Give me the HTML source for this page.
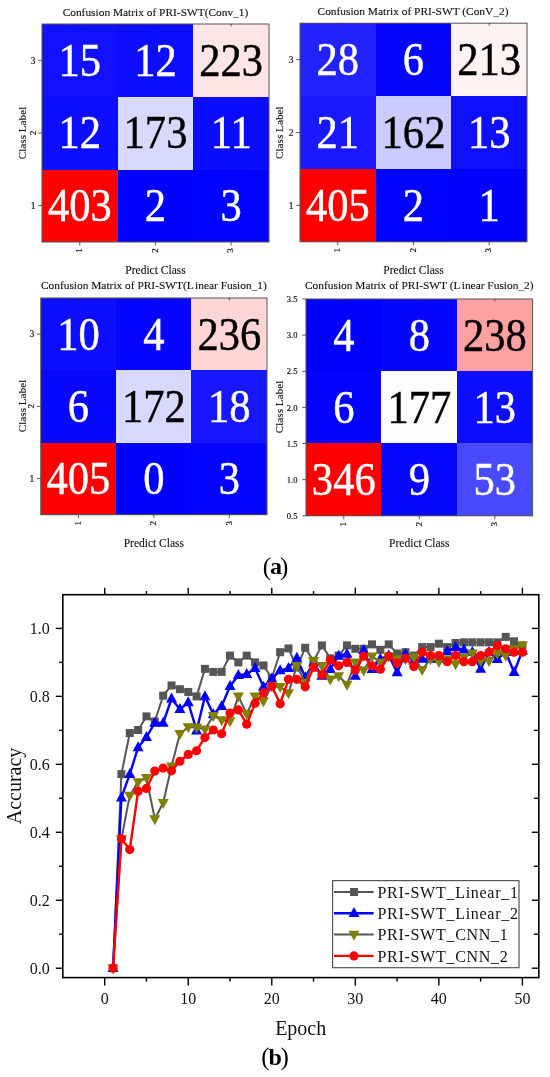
<!DOCTYPE html>
<html><head><meta charset="utf-8"><title>Confusion matrices and accuracy</title>
<style>html,body{margin:0;padding:0;background:#fff;width:550px;height:1077px;overflow:hidden}svg{display:block}</style>
</head><body>
<svg width="550" height="1077" viewBox="0 0 550 1077" font-family="'Liberation Serif', 'Times New Roman', serif">
<rect width="550" height="1077" fill="#fff"/>
<rect x="42" y="24" width="76" height="73" fill="#1111ff" shape-rendering="crispEdges"/>
<rect x="118" y="24" width="75" height="73" fill="#0d0dff" shape-rendering="crispEdges"/>
<rect x="193" y="24" width="76" height="73" fill="#ffe5e5" shape-rendering="crispEdges"/>
<rect x="42" y="97" width="76" height="73" fill="#0d0dff" shape-rendering="crispEdges"/>
<rect x="118" y="97" width="75" height="73" fill="#d9d9ff" shape-rendering="crispEdges"/>
<rect x="193" y="97" width="76" height="73" fill="#0b0bff" shape-rendering="crispEdges"/>
<rect x="42" y="170" width="76" height="72" fill="#ff0000" shape-rendering="crispEdges"/>
<rect x="118" y="170" width="75" height="72" fill="#0000ff" shape-rendering="crispEdges"/>
<rect x="193" y="170" width="76" height="72" fill="#0101ff" shape-rendering="crispEdges"/>
<text transform="translate(79.83,75.73) scale(0.925,1)" font-size="46" text-anchor="middle" fill="#fff" stroke="#fff" stroke-width="0.45">15</text>
<text transform="translate(155.50,75.73) scale(0.925,1)" font-size="46" text-anchor="middle" fill="#fff" stroke="#fff" stroke-width="0.45">12</text>
<text transform="translate(231.17,75.73) scale(0.925,1)" font-size="46" text-anchor="middle" fill="#000" stroke="#000" stroke-width="0.45">223</text>
<text transform="translate(79.83,148.40) scale(0.925,1)" font-size="46" text-anchor="middle" fill="#fff" stroke="#fff" stroke-width="0.45">12</text>
<text transform="translate(155.50,148.40) scale(0.925,1)" font-size="46" text-anchor="middle" fill="#000" stroke="#000" stroke-width="0.45">173</text>
<text transform="translate(231.17,148.40) scale(0.925,1)" font-size="46" text-anchor="middle" fill="#fff" stroke="#fff" stroke-width="0.45">11</text>
<text transform="translate(79.83,221.07) scale(0.925,1)" font-size="46" text-anchor="middle" fill="#fff" stroke="#fff" stroke-width="0.45">403</text>
<text transform="translate(155.50,221.07) scale(0.925,1)" font-size="46" text-anchor="middle" fill="#fff" stroke="#fff" stroke-width="0.45">2</text>
<text transform="translate(231.17,221.07) scale(0.925,1)" font-size="46" text-anchor="middle" fill="#fff" stroke="#fff" stroke-width="0.45">3</text>
<rect x="42.00" y="24.00" width="227.00" height="218.00" fill="none" stroke="#555" stroke-width="1"/>
<text x="155.50" y="15.80" font-size="11.4" text-anchor="middle" fill="#111" stroke="#111" stroke-width="0.12">Confusion Matrix of PRI-SWT(Conv_1)</text>
<text transform="translate(25.90,133.00) rotate(-90)" font-size="11.2" text-anchor="middle" fill="#111" stroke="#111" stroke-width="0.1">Class Label</text>
<text x="155.50" y="273.60" font-size="11.5" text-anchor="middle" fill="#111" stroke="#111" stroke-width="0.1">Predict Class</text>
<line x1="79.83" y1="242.00" x2="79.83" y2="245.50" stroke="#333" stroke-width="0.8"/>
<line x1="79.83" y1="24.00" x2="79.83" y2="26.50" stroke="#333" stroke-width="0.8"/>
<text transform="translate(82.13,250.50) rotate(-90)" font-size="9" text-anchor="middle" fill="#000" stroke="#000" stroke-width="0.12">1</text>
<line x1="155.50" y1="242.00" x2="155.50" y2="245.50" stroke="#333" stroke-width="0.8"/>
<line x1="155.50" y1="24.00" x2="155.50" y2="26.50" stroke="#333" stroke-width="0.8"/>
<text transform="translate(157.80,250.50) rotate(-90)" font-size="9" text-anchor="middle" fill="#000" stroke="#000" stroke-width="0.12">2</text>
<line x1="231.17" y1="242.00" x2="231.17" y2="245.50" stroke="#333" stroke-width="0.8"/>
<line x1="231.17" y1="24.00" x2="231.17" y2="26.50" stroke="#333" stroke-width="0.8"/>
<text transform="translate(233.47,250.50) rotate(-90)" font-size="9" text-anchor="middle" fill="#000" stroke="#000" stroke-width="0.12">3</text>
<line x1="38.20" y1="60.33" x2="42.00" y2="60.33" stroke="#333" stroke-width="0.8"/>
<text x="35.50" y="63.63" font-size="9.5" text-anchor="end" fill="#000" stroke="#000" stroke-width="0.12">3</text>
<line x1="38.20" y1="133.00" x2="42.00" y2="133.00" stroke="#333" stroke-width="0.8"/>
<text transform="translate(35.70,133.00) rotate(-90)" font-size="9" text-anchor="middle" fill="#000" stroke="#000" stroke-width="0.12">2</text>
<line x1="38.20" y1="205.67" x2="42.00" y2="205.67" stroke="#333" stroke-width="0.8"/>
<text x="35.50" y="208.97" font-size="9.5" text-anchor="end" fill="#000" stroke="#000" stroke-width="0.12">1</text>
<rect x="300" y="23" width="76" height="73" fill="#2222ff" shape-rendering="crispEdges"/>
<rect x="376" y="23" width="75" height="73" fill="#0606ff" shape-rendering="crispEdges"/>
<rect x="451" y="23" width="76" height="73" fill="#fff2f2" shape-rendering="crispEdges"/>
<rect x="300" y="96" width="76" height="73" fill="#1919ff" shape-rendering="crispEdges"/>
<rect x="376" y="96" width="75" height="73" fill="#cbcbff" shape-rendering="crispEdges"/>
<rect x="451" y="96" width="76" height="73" fill="#0f0fff" shape-rendering="crispEdges"/>
<rect x="300" y="169" width="76" height="73" fill="#ff0000" shape-rendering="crispEdges"/>
<rect x="376" y="169" width="75" height="73" fill="#0101ff" shape-rendering="crispEdges"/>
<rect x="451" y="169" width="76" height="73" fill="#0000ff" shape-rendering="crispEdges"/>
<text transform="translate(337.83,75.03) scale(0.925,1)" font-size="46" text-anchor="middle" fill="#fff" stroke="#fff" stroke-width="0.45">28</text>
<text transform="translate(413.50,75.03) scale(0.925,1)" font-size="46" text-anchor="middle" fill="#fff" stroke="#fff" stroke-width="0.45">6</text>
<text transform="translate(489.17,75.03) scale(0.925,1)" font-size="46" text-anchor="middle" fill="#000" stroke="#000" stroke-width="0.45">213</text>
<text transform="translate(337.83,147.90) scale(0.925,1)" font-size="46" text-anchor="middle" fill="#fff" stroke="#fff" stroke-width="0.45">21</text>
<text transform="translate(413.50,147.90) scale(0.925,1)" font-size="46" text-anchor="middle" fill="#000" stroke="#000" stroke-width="0.45">162</text>
<text transform="translate(489.17,147.90) scale(0.925,1)" font-size="46" text-anchor="middle" fill="#fff" stroke="#fff" stroke-width="0.45">13</text>
<text transform="translate(337.83,220.77) scale(0.925,1)" font-size="46" text-anchor="middle" fill="#fff" stroke="#fff" stroke-width="0.45">405</text>
<text transform="translate(413.50,220.77) scale(0.925,1)" font-size="46" text-anchor="middle" fill="#fff" stroke="#fff" stroke-width="0.45">2</text>
<text transform="translate(489.17,220.77) scale(0.925,1)" font-size="46" text-anchor="middle" fill="#fff" stroke="#fff" stroke-width="0.45">1</text>
<rect x="300.00" y="23.20" width="227.00" height="218.60" fill="none" stroke="#555" stroke-width="1"/>
<text x="413.00" y="14.90" font-size="11.4" text-anchor="middle" fill="#111" stroke="#111" stroke-width="0.12">Confusion Matrix of PRI-SWT (ConV_2)</text>
<text transform="translate(283.00,132.70) rotate(-90)" font-size="11.2" text-anchor="middle" fill="#111" stroke="#111" stroke-width="0.1">Class Label</text>
<text x="413.50" y="273.60" font-size="11.5" text-anchor="middle" fill="#111" stroke="#111" stroke-width="0.1">Predict Class</text>
<line x1="337.83" y1="241.80" x2="337.83" y2="245.30" stroke="#333" stroke-width="0.8"/>
<line x1="337.83" y1="23.20" x2="337.83" y2="25.70" stroke="#333" stroke-width="0.8"/>
<text transform="translate(340.13,250.30) rotate(-90)" font-size="9" text-anchor="middle" fill="#000" stroke="#000" stroke-width="0.12">1</text>
<line x1="413.50" y1="241.80" x2="413.50" y2="245.30" stroke="#333" stroke-width="0.8"/>
<line x1="413.50" y1="23.20" x2="413.50" y2="25.70" stroke="#333" stroke-width="0.8"/>
<text transform="translate(415.80,250.30) rotate(-90)" font-size="9" text-anchor="middle" fill="#000" stroke="#000" stroke-width="0.12">2</text>
<line x1="489.17" y1="241.80" x2="489.17" y2="245.30" stroke="#333" stroke-width="0.8"/>
<line x1="489.17" y1="23.20" x2="489.17" y2="25.70" stroke="#333" stroke-width="0.8"/>
<text transform="translate(491.47,250.30) rotate(-90)" font-size="9" text-anchor="middle" fill="#000" stroke="#000" stroke-width="0.12">3</text>
<line x1="296.20" y1="59.63" x2="300.00" y2="59.63" stroke="#333" stroke-width="0.8"/>
<text x="293.50" y="62.93" font-size="9.5" text-anchor="end" fill="#000" stroke="#000" stroke-width="0.12">3</text>
<line x1="296.20" y1="132.50" x2="300.00" y2="132.50" stroke="#333" stroke-width="0.8"/>
<text x="293.50" y="135.80" font-size="9.5" text-anchor="end" fill="#000" stroke="#000" stroke-width="0.12">2</text>
<line x1="296.20" y1="205.37" x2="300.00" y2="205.37" stroke="#333" stroke-width="0.8"/>
<text x="293.50" y="208.67" font-size="9.5" text-anchor="end" fill="#000" stroke="#000" stroke-width="0.12">1</text>
<rect x="41" y="298" width="75" height="72" fill="#0d0dff" shape-rendering="crispEdges"/>
<rect x="116" y="298" width="75" height="72" fill="#0505ff" shape-rendering="crispEdges"/>
<rect x="191" y="298" width="76" height="72" fill="#ffd5d5" shape-rendering="crispEdges"/>
<rect x="41" y="370" width="75" height="73" fill="#0808ff" shape-rendering="crispEdges"/>
<rect x="116" y="370" width="75" height="73" fill="#d9d9ff" shape-rendering="crispEdges"/>
<rect x="191" y="370" width="76" height="73" fill="#1717ff" shape-rendering="crispEdges"/>
<rect x="41" y="443" width="75" height="72" fill="#ff0000" shape-rendering="crispEdges"/>
<rect x="116" y="443" width="75" height="72" fill="#0000ff" shape-rendering="crispEdges"/>
<rect x="191" y="443" width="76" height="72" fill="#0404ff" shape-rendering="crispEdges"/>
<text transform="translate(78.42,349.52) scale(0.925,1)" font-size="46" text-anchor="middle" fill="#fff" stroke="#fff" stroke-width="0.45">10</text>
<text transform="translate(153.85,349.52) scale(0.925,1)" font-size="46" text-anchor="middle" fill="#fff" stroke="#fff" stroke-width="0.45">4</text>
<text transform="translate(229.28,349.52) scale(0.925,1)" font-size="46" text-anchor="middle" fill="#000" stroke="#000" stroke-width="0.45">236</text>
<text transform="translate(78.42,421.75) scale(0.925,1)" font-size="46" text-anchor="middle" fill="#fff" stroke="#fff" stroke-width="0.45">6</text>
<text transform="translate(153.85,421.75) scale(0.925,1)" font-size="46" text-anchor="middle" fill="#000" stroke="#000" stroke-width="0.45">172</text>
<text transform="translate(229.28,421.75) scale(0.925,1)" font-size="46" text-anchor="middle" fill="#fff" stroke="#fff" stroke-width="0.45">18</text>
<text transform="translate(78.42,493.98) scale(0.925,1)" font-size="46" text-anchor="middle" fill="#fff" stroke="#fff" stroke-width="0.45">405</text>
<text transform="translate(153.85,493.98) scale(0.925,1)" font-size="46" text-anchor="middle" fill="#fff" stroke="#fff" stroke-width="0.45">0</text>
<text transform="translate(229.28,493.98) scale(0.925,1)" font-size="46" text-anchor="middle" fill="#fff" stroke="#fff" stroke-width="0.45">3</text>
<rect x="40.70" y="298.00" width="226.30" height="216.70" fill="none" stroke="#555" stroke-width="1"/>
<text x="153.90" y="288.90" font-size="11.4" text-anchor="middle" fill="#111" stroke="#111" stroke-width="0.12">Confusion Matrix of PRI-SWT(L<tspan dx="1.3">inear Fusion_1)</tspan></text>
<text transform="translate(25.60,406.00) rotate(-90)" font-size="11.2" text-anchor="middle" fill="#111" stroke="#111" stroke-width="0.1">Class Label</text>
<text x="153.85" y="546.50" font-size="11.5" text-anchor="middle" fill="#111" stroke="#111" stroke-width="0.1">Predict Class</text>
<line x1="78.42" y1="514.70" x2="78.42" y2="518.20" stroke="#333" stroke-width="0.8"/>
<line x1="78.42" y1="298.00" x2="78.42" y2="300.50" stroke="#333" stroke-width="0.8"/>
<text transform="translate(80.72,523.20) rotate(-90)" font-size="9" text-anchor="middle" fill="#000" stroke="#000" stroke-width="0.12">1</text>
<line x1="153.85" y1="514.70" x2="153.85" y2="518.20" stroke="#333" stroke-width="0.8"/>
<line x1="153.85" y1="298.00" x2="153.85" y2="300.50" stroke="#333" stroke-width="0.8"/>
<text transform="translate(156.15,523.20) rotate(-90)" font-size="9" text-anchor="middle" fill="#000" stroke="#000" stroke-width="0.12">2</text>
<line x1="229.28" y1="514.70" x2="229.28" y2="518.20" stroke="#333" stroke-width="0.8"/>
<line x1="229.28" y1="298.00" x2="229.28" y2="300.50" stroke="#333" stroke-width="0.8"/>
<text transform="translate(231.58,523.20) rotate(-90)" font-size="9" text-anchor="middle" fill="#000" stroke="#000" stroke-width="0.12">3</text>
<line x1="36.90" y1="334.12" x2="40.70" y2="334.12" stroke="#333" stroke-width="0.8"/>
<text x="34.20" y="337.42" font-size="9.5" text-anchor="end" fill="#000" stroke="#000" stroke-width="0.12">3</text>
<line x1="36.90" y1="406.35" x2="40.70" y2="406.35" stroke="#333" stroke-width="0.8"/>
<text transform="translate(34.40,406.35) rotate(-90)" font-size="9" text-anchor="middle" fill="#000" stroke="#000" stroke-width="0.12">2</text>
<line x1="36.90" y1="478.58" x2="40.70" y2="478.58" stroke="#333" stroke-width="0.8"/>
<text x="34.20" y="481.88" font-size="9.5" text-anchor="end" fill="#000" stroke="#000" stroke-width="0.12">1</text>
<rect x="306" y="299" width="75" height="72" fill="#0000ff" shape-rendering="crispEdges"/>
<rect x="381" y="299" width="76" height="72" fill="#0606ff" shape-rendering="crispEdges"/>
<rect x="457" y="299" width="76" height="72" fill="#ffa1a1" shape-rendering="crispEdges"/>
<rect x="306" y="371" width="75" height="72" fill="#0303ff" shape-rendering="crispEdges"/>
<rect x="381" y="371" width="76" height="72" fill="#fffcfc" shape-rendering="crispEdges"/>
<rect x="457" y="371" width="76" height="72" fill="#0d0dff" shape-rendering="crispEdges"/>
<rect x="306" y="443" width="75" height="73" fill="#ff0000" shape-rendering="crispEdges"/>
<rect x="381" y="443" width="76" height="73" fill="#0707ff" shape-rendering="crispEdges"/>
<rect x="457" y="443" width="76" height="73" fill="#4949ff" shape-rendering="crispEdges"/>
<text transform="translate(343.77,350.53) scale(0.925,1)" font-size="46" text-anchor="middle" fill="#fff" stroke="#fff" stroke-width="0.45">4</text>
<text transform="translate(419.30,350.53) scale(0.925,1)" font-size="46" text-anchor="middle" fill="#fff" stroke="#fff" stroke-width="0.45">8</text>
<text transform="translate(494.83,350.53) scale(0.925,1)" font-size="46" text-anchor="middle" fill="#000" stroke="#000" stroke-width="0.45">238</text>
<text transform="translate(343.77,422.80) scale(0.925,1)" font-size="46" text-anchor="middle" fill="#fff" stroke="#fff" stroke-width="0.45">6</text>
<text transform="translate(419.30,422.80) scale(0.925,1)" font-size="46" text-anchor="middle" fill="#000" stroke="#000" stroke-width="0.45">177</text>
<text transform="translate(494.83,422.80) scale(0.925,1)" font-size="46" text-anchor="middle" fill="#fff" stroke="#fff" stroke-width="0.45">13</text>
<text transform="translate(343.77,495.07) scale(0.925,1)" font-size="46" text-anchor="middle" fill="#fff" stroke="#fff" stroke-width="0.45">346</text>
<text transform="translate(419.30,495.07) scale(0.925,1)" font-size="46" text-anchor="middle" fill="#fff" stroke="#fff" stroke-width="0.45">9</text>
<text transform="translate(494.83,495.07) scale(0.925,1)" font-size="46" text-anchor="middle" fill="#fff" stroke="#fff" stroke-width="0.45">53</text>
<rect x="306.00" y="299.00" width="226.60" height="216.80" fill="none" stroke="#555" stroke-width="1"/>
<text x="419.30" y="288.90" font-size="11.4" text-anchor="middle" fill="#111" stroke="#111" stroke-width="0.12">Confusion Matrix of PRI-SWT (L<tspan dx="1.3">inear Fusion_2)</tspan></text>
<text transform="translate(283.00,407.00) rotate(-90)" font-size="11.2" text-anchor="middle" fill="#111" stroke="#111" stroke-width="0.1">Class Label</text>
<text x="419.30" y="546.90" font-size="11.5" text-anchor="middle" fill="#111" stroke="#111" stroke-width="0.1">Predict Class</text>
<line x1="343.77" y1="515.80" x2="343.77" y2="519.30" stroke="#333" stroke-width="0.8"/>
<line x1="343.77" y1="299.00" x2="343.77" y2="301.50" stroke="#333" stroke-width="0.8"/>
<text transform="translate(346.07,524.30) rotate(-90)" font-size="9" text-anchor="middle" fill="#000" stroke="#000" stroke-width="0.12">1</text>
<line x1="419.30" y1="515.80" x2="419.30" y2="519.30" stroke="#333" stroke-width="0.8"/>
<line x1="419.30" y1="299.00" x2="419.30" y2="301.50" stroke="#333" stroke-width="0.8"/>
<text transform="translate(421.60,524.30) rotate(-90)" font-size="9" text-anchor="middle" fill="#000" stroke="#000" stroke-width="0.12">2</text>
<line x1="494.83" y1="515.80" x2="494.83" y2="519.30" stroke="#333" stroke-width="0.8"/>
<line x1="494.83" y1="299.00" x2="494.83" y2="301.50" stroke="#333" stroke-width="0.8"/>
<text transform="translate(497.13,524.30) rotate(-90)" font-size="9" text-anchor="middle" fill="#000" stroke="#000" stroke-width="0.12">3</text>
<line x1="302.20" y1="299.00" x2="306.00" y2="299.00" stroke="#333" stroke-width="0.8"/>
<text x="297.50" y="302.10" font-size="8.6" text-anchor="end" fill="#000" stroke="#000" stroke-width="0.12">3.5</text>
<line x1="302.20" y1="335.13" x2="306.00" y2="335.13" stroke="#333" stroke-width="0.8"/>
<text x="297.50" y="338.23" font-size="8.6" text-anchor="end" fill="#000" stroke="#000" stroke-width="0.12">3.0</text>
<line x1="302.20" y1="371.27" x2="306.00" y2="371.27" stroke="#333" stroke-width="0.8"/>
<text x="297.50" y="374.37" font-size="8.6" text-anchor="end" fill="#000" stroke="#000" stroke-width="0.12">2.5</text>
<line x1="302.20" y1="407.40" x2="306.00" y2="407.40" stroke="#333" stroke-width="0.8"/>
<text x="297.50" y="410.50" font-size="8.6" text-anchor="end" fill="#000" stroke="#000" stroke-width="0.12">2.0</text>
<line x1="302.20" y1="443.53" x2="306.00" y2="443.53" stroke="#333" stroke-width="0.8"/>
<text x="297.50" y="446.63" font-size="8.6" text-anchor="end" fill="#000" stroke="#000" stroke-width="0.12">1.5</text>
<line x1="302.20" y1="479.67" x2="306.00" y2="479.67" stroke="#333" stroke-width="0.8"/>
<text x="297.50" y="482.77" font-size="8.6" text-anchor="end" fill="#000" stroke="#000" stroke-width="0.12">1.0</text>
<line x1="302.20" y1="515.80" x2="306.00" y2="515.80" stroke="#333" stroke-width="0.8"/>
<text x="297.50" y="518.90" font-size="8.6" text-anchor="end" fill="#000" stroke="#000" stroke-width="0.12">0.5</text>
<g font-size="24" text-anchor="middle" fill="#000"><text x="267" y="575.3" font-size="25">(</text><text x="276" y="574.3" font-weight="bold">a</text><text x="284.2" y="575.3" font-size="25">)</text></g>
<g>
<polyline points="113.05,968.20 121.41,774.17 129.76,733.06 138.12,730.00 146.47,716.41 154.82,721.51 163.18,695.68 171.53,685.49 179.89,689.22 188.24,691.94 196.59,696.36 204.95,668.84 213.30,671.89 221.66,671.89 230.01,655.58 238.36,662.38 246.72,655.58 255.07,662.38 263.43,665.44 271.78,678.01 280.13,652.19 288.49,648.45 296.84,667.48 305.20,647.77 313.55,661.02 321.90,645.39 330.26,658.30 338.61,655.58 346.97,645.39 355.32,648.79 363.67,648.79 372.03,644.37 380.38,649.81 388.74,644.37 397.09,653.55 405.44,652.19 413.80,655.58 422.15,647.09 430.51,647.09 438.86,643.69 447.21,647.09 455.57,643.01 463.92,642.33 472.28,642.33 480.63,642.33 488.98,642.33 497.34,642.33 505.69,636.89 514.05,641.31 522.40,645.39" fill="none" stroke="#555555" stroke-width="2" stroke-linejoin="round"/>
<rect x="109.05" y="964.20" width="8" height="8" fill="#555555"/>
<rect x="117.41" y="770.17" width="8" height="8" fill="#555555"/>
<rect x="125.76" y="729.06" width="8" height="8" fill="#555555"/>
<rect x="134.12" y="726.00" width="8" height="8" fill="#555555"/>
<rect x="142.47" y="712.41" width="8" height="8" fill="#555555"/>
<rect x="150.82" y="717.51" width="8" height="8" fill="#555555"/>
<rect x="159.18" y="691.68" width="8" height="8" fill="#555555"/>
<rect x="167.53" y="681.49" width="8" height="8" fill="#555555"/>
<rect x="175.89" y="685.22" width="8" height="8" fill="#555555"/>
<rect x="184.24" y="687.94" width="8" height="8" fill="#555555"/>
<rect x="192.59" y="692.36" width="8" height="8" fill="#555555"/>
<rect x="200.95" y="664.84" width="8" height="8" fill="#555555"/>
<rect x="209.30" y="667.89" width="8" height="8" fill="#555555"/>
<rect x="217.66" y="667.89" width="8" height="8" fill="#555555"/>
<rect x="226.01" y="651.58" width="8" height="8" fill="#555555"/>
<rect x="234.36" y="658.38" width="8" height="8" fill="#555555"/>
<rect x="242.72" y="651.58" width="8" height="8" fill="#555555"/>
<rect x="251.07" y="658.38" width="8" height="8" fill="#555555"/>
<rect x="259.43" y="661.44" width="8" height="8" fill="#555555"/>
<rect x="267.78" y="674.01" width="8" height="8" fill="#555555"/>
<rect x="276.13" y="648.19" width="8" height="8" fill="#555555"/>
<rect x="284.49" y="644.45" width="8" height="8" fill="#555555"/>
<rect x="292.84" y="663.48" width="8" height="8" fill="#555555"/>
<rect x="301.20" y="643.77" width="8" height="8" fill="#555555"/>
<rect x="309.55" y="657.02" width="8" height="8" fill="#555555"/>
<rect x="317.90" y="641.39" width="8" height="8" fill="#555555"/>
<rect x="326.26" y="654.30" width="8" height="8" fill="#555555"/>
<rect x="334.61" y="651.58" width="8" height="8" fill="#555555"/>
<rect x="342.97" y="641.39" width="8" height="8" fill="#555555"/>
<rect x="351.32" y="644.79" width="8" height="8" fill="#555555"/>
<rect x="359.67" y="644.79" width="8" height="8" fill="#555555"/>
<rect x="368.03" y="640.37" width="8" height="8" fill="#555555"/>
<rect x="376.38" y="645.81" width="8" height="8" fill="#555555"/>
<rect x="384.74" y="640.37" width="8" height="8" fill="#555555"/>
<rect x="393.09" y="649.55" width="8" height="8" fill="#555555"/>
<rect x="401.44" y="648.19" width="8" height="8" fill="#555555"/>
<rect x="409.80" y="651.58" width="8" height="8" fill="#555555"/>
<rect x="418.15" y="643.09" width="8" height="8" fill="#555555"/>
<rect x="426.51" y="643.09" width="8" height="8" fill="#555555"/>
<rect x="434.86" y="639.69" width="8" height="8" fill="#555555"/>
<rect x="443.21" y="643.09" width="8" height="8" fill="#555555"/>
<rect x="451.57" y="639.01" width="8" height="8" fill="#555555"/>
<rect x="459.92" y="638.33" width="8" height="8" fill="#555555"/>
<rect x="468.28" y="638.33" width="8" height="8" fill="#555555"/>
<rect x="476.63" y="638.33" width="8" height="8" fill="#555555"/>
<rect x="484.98" y="638.33" width="8" height="8" fill="#555555"/>
<rect x="493.34" y="638.33" width="8" height="8" fill="#555555"/>
<rect x="501.69" y="632.89" width="8" height="8" fill="#555555"/>
<rect x="510.05" y="637.31" width="8" height="8" fill="#555555"/>
<rect x="518.40" y="641.39" width="8" height="8" fill="#555555"/>
<polyline points="113.05,968.20 121.41,797.62 129.76,774.17 138.12,747.33 146.47,737.14 154.82,722.86 163.18,722.86 171.53,698.74 179.89,709.27 188.24,702.48 196.59,730.68 204.95,696.36 213.30,714.37 221.66,706.21 230.01,686.17 238.36,675.29 246.72,674.27 255.07,668.16 263.43,686.85 271.78,678.69 280.13,670.54 288.49,668.16 296.84,657.96 305.20,677.33 313.55,662.38 321.90,675.97 330.26,669.18 338.61,655.92 346.97,653.88 355.32,675.97 363.67,650.15 372.03,669.18 380.38,658.98 388.74,655.58 397.09,672.57 405.44,653.88 413.80,660.68 422.15,658.98 430.51,658.98 438.86,658.98 447.21,651.17 455.57,647.43 463.92,649.81 472.28,652.19 480.63,668.84 488.98,652.19 497.34,659.32 505.69,652.19 514.05,672.23 522.40,650.83" fill="none" stroke="#0000ff" stroke-width="2.4" stroke-linejoin="round"/>
<path d="M113.05,962.00L118.55,972.00L107.55,972.00Z" fill="#0000ff"/>
<path d="M121.41,791.42L126.91,801.42L115.91,801.42Z" fill="#0000ff"/>
<path d="M129.76,767.97L135.26,777.97L124.26,777.97Z" fill="#0000ff"/>
<path d="M138.12,741.13L143.62,751.13L132.62,751.13Z" fill="#0000ff"/>
<path d="M146.47,730.94L151.97,740.94L140.97,740.94Z" fill="#0000ff"/>
<path d="M154.82,716.66L160.32,726.66L149.32,726.66Z" fill="#0000ff"/>
<path d="M163.18,716.66L168.68,726.66L157.68,726.66Z" fill="#0000ff"/>
<path d="M171.53,692.54L177.03,702.54L166.03,702.54Z" fill="#0000ff"/>
<path d="M179.89,703.07L185.39,713.07L174.39,713.07Z" fill="#0000ff"/>
<path d="M188.24,696.28L193.74,706.28L182.74,706.28Z" fill="#0000ff"/>
<path d="M196.59,724.48L202.09,734.48L191.09,734.48Z" fill="#0000ff"/>
<path d="M204.95,690.16L210.45,700.16L199.45,700.16Z" fill="#0000ff"/>
<path d="M213.30,708.17L218.80,718.17L207.80,718.17Z" fill="#0000ff"/>
<path d="M221.66,700.01L227.16,710.01L216.16,710.01Z" fill="#0000ff"/>
<path d="M230.01,679.97L235.51,689.97L224.51,689.97Z" fill="#0000ff"/>
<path d="M238.36,669.09L243.86,679.09L232.86,679.09Z" fill="#0000ff"/>
<path d="M246.72,668.07L252.22,678.07L241.22,678.07Z" fill="#0000ff"/>
<path d="M255.07,661.96L260.57,671.96L249.57,671.96Z" fill="#0000ff"/>
<path d="M263.43,680.65L268.93,690.65L257.93,690.65Z" fill="#0000ff"/>
<path d="M271.78,672.49L277.28,682.49L266.28,682.49Z" fill="#0000ff"/>
<path d="M280.13,664.34L285.63,674.34L274.63,674.34Z" fill="#0000ff"/>
<path d="M288.49,661.96L293.99,671.96L282.99,671.96Z" fill="#0000ff"/>
<path d="M296.84,651.76L302.34,661.76L291.34,661.76Z" fill="#0000ff"/>
<path d="M305.20,671.13L310.70,681.13L299.70,681.13Z" fill="#0000ff"/>
<path d="M313.55,656.18L319.05,666.18L308.05,666.18Z" fill="#0000ff"/>
<path d="M321.90,669.77L327.40,679.77L316.40,679.77Z" fill="#0000ff"/>
<path d="M330.26,662.98L335.76,672.98L324.76,672.98Z" fill="#0000ff"/>
<path d="M338.61,649.72L344.11,659.72L333.11,659.72Z" fill="#0000ff"/>
<path d="M346.97,647.68L352.47,657.68L341.47,657.68Z" fill="#0000ff"/>
<path d="M355.32,669.77L360.82,679.77L349.82,679.77Z" fill="#0000ff"/>
<path d="M363.67,643.95L369.17,653.95L358.17,653.95Z" fill="#0000ff"/>
<path d="M372.03,662.98L377.53,672.98L366.53,672.98Z" fill="#0000ff"/>
<path d="M380.38,652.78L385.88,662.78L374.88,662.78Z" fill="#0000ff"/>
<path d="M388.74,649.38L394.24,659.38L383.24,659.38Z" fill="#0000ff"/>
<path d="M397.09,666.37L402.59,676.37L391.59,676.37Z" fill="#0000ff"/>
<path d="M405.44,647.68L410.94,657.68L399.94,657.68Z" fill="#0000ff"/>
<path d="M413.80,654.48L419.30,664.48L408.30,664.48Z" fill="#0000ff"/>
<path d="M422.15,652.78L427.65,662.78L416.65,662.78Z" fill="#0000ff"/>
<path d="M430.51,652.78L436.01,662.78L425.01,662.78Z" fill="#0000ff"/>
<path d="M438.86,652.78L444.36,662.78L433.36,662.78Z" fill="#0000ff"/>
<path d="M447.21,644.97L452.71,654.97L441.71,654.97Z" fill="#0000ff"/>
<path d="M455.57,641.23L461.07,651.23L450.07,651.23Z" fill="#0000ff"/>
<path d="M463.92,643.61L469.42,653.61L458.42,653.61Z" fill="#0000ff"/>
<path d="M472.28,645.99L477.78,655.99L466.78,655.99Z" fill="#0000ff"/>
<path d="M480.63,662.64L486.13,672.64L475.13,672.64Z" fill="#0000ff"/>
<path d="M488.98,645.99L494.48,655.99L483.48,655.99Z" fill="#0000ff"/>
<path d="M497.34,653.12L502.84,663.12L491.84,663.12Z" fill="#0000ff"/>
<path d="M505.69,645.99L511.19,655.99L500.19,655.99Z" fill="#0000ff"/>
<path d="M514.05,666.03L519.55,676.03L508.55,676.03Z" fill="#0000ff"/>
<path d="M522.40,644.63L527.90,654.63L516.90,654.63Z" fill="#0000ff"/>
<polyline points="113.05,968.20 121.41,839.08 129.76,795.58 138.12,781.99 146.47,777.91 154.82,819.03 163.18,802.72 171.53,766.36 179.89,733.74 188.24,726.94 196.59,727.62 204.95,729.32 213.30,715.73 221.66,720.15 230.01,721.17 238.36,696.36 246.72,713.69 255.07,696.36 263.43,701.12 271.78,686.17 280.13,686.85 288.49,692.96 296.84,665.78 305.20,682.77 313.55,660.68 321.90,665.78 330.26,679.37 338.61,675.97 346.97,684.47 355.32,662.38 363.67,670.20 372.03,656.26 380.38,662.38 388.74,656.26 397.09,658.98 405.44,658.98 413.80,656.94 422.15,669.86 430.51,658.98 438.86,661.70 447.21,658.98 455.57,664.08 463.92,657.28 472.28,653.21 480.63,660.68 488.98,660.68 497.34,653.21 505.69,655.58 514.05,648.79 522.40,645.39" fill="none" stroke="#555555" stroke-width="2" stroke-linejoin="round"/>
<path d="M113.05,974.40L118.55,964.40L107.55,964.40Z" fill="#808000"/>
<path d="M121.41,845.28L126.91,835.28L115.91,835.28Z" fill="#808000"/>
<path d="M129.76,801.78L135.26,791.78L124.26,791.78Z" fill="#808000"/>
<path d="M138.12,788.19L143.62,778.19L132.62,778.19Z" fill="#808000"/>
<path d="M146.47,784.11L151.97,774.11L140.97,774.11Z" fill="#808000"/>
<path d="M154.82,825.23L160.32,815.23L149.32,815.23Z" fill="#808000"/>
<path d="M163.18,808.92L168.68,798.92L157.68,798.92Z" fill="#808000"/>
<path d="M171.53,772.56L177.03,762.56L166.03,762.56Z" fill="#808000"/>
<path d="M179.89,739.94L185.39,729.94L174.39,729.94Z" fill="#808000"/>
<path d="M188.24,733.14L193.74,723.14L182.74,723.14Z" fill="#808000"/>
<path d="M196.59,733.82L202.09,723.82L191.09,723.82Z" fill="#808000"/>
<path d="M204.95,735.52L210.45,725.52L199.45,725.52Z" fill="#808000"/>
<path d="M213.30,721.93L218.80,711.93L207.80,711.93Z" fill="#808000"/>
<path d="M221.66,726.35L227.16,716.35L216.16,716.35Z" fill="#808000"/>
<path d="M230.01,727.37L235.51,717.37L224.51,717.37Z" fill="#808000"/>
<path d="M238.36,702.56L243.86,692.56L232.86,692.56Z" fill="#808000"/>
<path d="M246.72,719.89L252.22,709.89L241.22,709.89Z" fill="#808000"/>
<path d="M255.07,702.56L260.57,692.56L249.57,692.56Z" fill="#808000"/>
<path d="M263.43,707.32L268.93,697.32L257.93,697.32Z" fill="#808000"/>
<path d="M271.78,692.37L277.28,682.37L266.28,682.37Z" fill="#808000"/>
<path d="M280.13,693.05L285.63,683.05L274.63,683.05Z" fill="#808000"/>
<path d="M288.49,699.16L293.99,689.16L282.99,689.16Z" fill="#808000"/>
<path d="M296.84,671.98L302.34,661.98L291.34,661.98Z" fill="#808000"/>
<path d="M305.20,688.97L310.70,678.97L299.70,678.97Z" fill="#808000"/>
<path d="M313.55,666.88L319.05,656.88L308.05,656.88Z" fill="#808000"/>
<path d="M321.90,671.98L327.40,661.98L316.40,661.98Z" fill="#808000"/>
<path d="M330.26,685.57L335.76,675.57L324.76,675.57Z" fill="#808000"/>
<path d="M338.61,682.17L344.11,672.17L333.11,672.17Z" fill="#808000"/>
<path d="M346.97,690.67L352.47,680.67L341.47,680.67Z" fill="#808000"/>
<path d="M355.32,668.58L360.82,658.58L349.82,658.58Z" fill="#808000"/>
<path d="M363.67,676.40L369.17,666.40L358.17,666.40Z" fill="#808000"/>
<path d="M372.03,662.46L377.53,652.46L366.53,652.46Z" fill="#808000"/>
<path d="M380.38,668.58L385.88,658.58L374.88,658.58Z" fill="#808000"/>
<path d="M388.74,662.46L394.24,652.46L383.24,652.46Z" fill="#808000"/>
<path d="M397.09,665.18L402.59,655.18L391.59,655.18Z" fill="#808000"/>
<path d="M405.44,665.18L410.94,655.18L399.94,655.18Z" fill="#808000"/>
<path d="M413.80,663.14L419.30,653.14L408.30,653.14Z" fill="#808000"/>
<path d="M422.15,676.06L427.65,666.06L416.65,666.06Z" fill="#808000"/>
<path d="M430.51,665.18L436.01,655.18L425.01,655.18Z" fill="#808000"/>
<path d="M438.86,667.90L444.36,657.90L433.36,657.90Z" fill="#808000"/>
<path d="M447.21,665.18L452.71,655.18L441.71,655.18Z" fill="#808000"/>
<path d="M455.57,670.28L461.07,660.28L450.07,660.28Z" fill="#808000"/>
<path d="M463.92,663.48L469.42,653.48L458.42,653.48Z" fill="#808000"/>
<path d="M472.28,659.41L477.78,649.41L466.78,649.41Z" fill="#808000"/>
<path d="M480.63,666.88L486.13,656.88L475.13,656.88Z" fill="#808000"/>
<path d="M488.98,666.88L494.48,656.88L483.48,656.88Z" fill="#808000"/>
<path d="M497.34,659.41L502.84,649.41L491.84,649.41Z" fill="#808000"/>
<path d="M505.69,661.78L511.19,651.78L500.19,651.78Z" fill="#808000"/>
<path d="M514.05,654.99L519.55,644.99L508.55,644.99Z" fill="#808000"/>
<path d="M522.40,651.59L527.90,641.59L516.90,641.59Z" fill="#808000"/>
<polyline points="113.05,968.20 121.41,838.74 129.76,849.61 138.12,791.16 146.47,788.45 154.82,771.12 163.18,768.06 171.53,770.78 179.89,761.26 188.24,754.47 196.59,750.73 204.95,737.48 213.30,730.00 221.66,733.74 230.01,713.01 238.36,709.95 246.72,724.22 255.07,703.16 263.43,692.96 271.78,686.17 280.13,703.84 288.49,679.37 296.84,679.37 305.20,686.85 313.55,667.48 321.90,674.95 330.26,660.00 338.61,665.78 346.97,662.38 355.32,670.20 363.67,656.26 372.03,665.78 380.38,669.18 388.74,656.26 397.09,663.06 405.44,658.30 413.80,666.46 422.15,652.19 430.51,655.58 438.86,655.58 447.21,661.70 455.57,655.58 463.92,661.70 472.28,661.70 480.63,655.58 488.98,652.19 497.34,645.73 505.69,648.79 514.05,652.19 522.40,652.19" fill="none" stroke="#ff0000" stroke-width="2.4" stroke-linejoin="round"/>
<circle cx="113.05" cy="968.20" r="4.6" fill="#ff0000"/>
<circle cx="121.41" cy="838.74" r="4.6" fill="#ff0000"/>
<circle cx="129.76" cy="849.61" r="4.6" fill="#ff0000"/>
<circle cx="138.12" cy="791.16" r="4.6" fill="#ff0000"/>
<circle cx="146.47" cy="788.45" r="4.6" fill="#ff0000"/>
<circle cx="154.82" cy="771.12" r="4.6" fill="#ff0000"/>
<circle cx="163.18" cy="768.06" r="4.6" fill="#ff0000"/>
<circle cx="171.53" cy="770.78" r="4.6" fill="#ff0000"/>
<circle cx="179.89" cy="761.26" r="4.6" fill="#ff0000"/>
<circle cx="188.24" cy="754.47" r="4.6" fill="#ff0000"/>
<circle cx="196.59" cy="750.73" r="4.6" fill="#ff0000"/>
<circle cx="204.95" cy="737.48" r="4.6" fill="#ff0000"/>
<circle cx="213.30" cy="730.00" r="4.6" fill="#ff0000"/>
<circle cx="221.66" cy="733.74" r="4.6" fill="#ff0000"/>
<circle cx="230.01" cy="713.01" r="4.6" fill="#ff0000"/>
<circle cx="238.36" cy="709.95" r="4.6" fill="#ff0000"/>
<circle cx="246.72" cy="724.22" r="4.6" fill="#ff0000"/>
<circle cx="255.07" cy="703.16" r="4.6" fill="#ff0000"/>
<circle cx="263.43" cy="692.96" r="4.6" fill="#ff0000"/>
<circle cx="271.78" cy="686.17" r="4.6" fill="#ff0000"/>
<circle cx="280.13" cy="703.84" r="4.6" fill="#ff0000"/>
<circle cx="288.49" cy="679.37" r="4.6" fill="#ff0000"/>
<circle cx="296.84" cy="679.37" r="4.6" fill="#ff0000"/>
<circle cx="305.20" cy="686.85" r="4.6" fill="#ff0000"/>
<circle cx="313.55" cy="667.48" r="4.6" fill="#ff0000"/>
<circle cx="321.90" cy="674.95" r="4.6" fill="#ff0000"/>
<circle cx="330.26" cy="660.00" r="4.6" fill="#ff0000"/>
<circle cx="338.61" cy="665.78" r="4.6" fill="#ff0000"/>
<circle cx="346.97" cy="662.38" r="4.6" fill="#ff0000"/>
<circle cx="355.32" cy="670.20" r="4.6" fill="#ff0000"/>
<circle cx="363.67" cy="656.26" r="4.6" fill="#ff0000"/>
<circle cx="372.03" cy="665.78" r="4.6" fill="#ff0000"/>
<circle cx="380.38" cy="669.18" r="4.6" fill="#ff0000"/>
<circle cx="388.74" cy="656.26" r="4.6" fill="#ff0000"/>
<circle cx="397.09" cy="663.06" r="4.6" fill="#ff0000"/>
<circle cx="405.44" cy="658.30" r="4.6" fill="#ff0000"/>
<circle cx="413.80" cy="666.46" r="4.6" fill="#ff0000"/>
<circle cx="422.15" cy="652.19" r="4.6" fill="#ff0000"/>
<circle cx="430.51" cy="655.58" r="4.6" fill="#ff0000"/>
<circle cx="438.86" cy="655.58" r="4.6" fill="#ff0000"/>
<circle cx="447.21" cy="661.70" r="4.6" fill="#ff0000"/>
<circle cx="455.57" cy="655.58" r="4.6" fill="#ff0000"/>
<circle cx="463.92" cy="661.70" r="4.6" fill="#ff0000"/>
<circle cx="472.28" cy="661.70" r="4.6" fill="#ff0000"/>
<circle cx="480.63" cy="655.58" r="4.6" fill="#ff0000"/>
<circle cx="488.98" cy="652.19" r="4.6" fill="#ff0000"/>
<circle cx="497.34" cy="645.73" r="4.6" fill="#ff0000"/>
<circle cx="505.69" cy="648.79" r="4.6" fill="#ff0000"/>
<circle cx="514.05" cy="652.19" r="4.6" fill="#ff0000"/>
<circle cx="522.40" cy="652.19" r="4.6" fill="#ff0000"/>
</g>
<rect x="62.8" y="594.7" width="476.00" height="382.90" fill="none" stroke="#000" stroke-width="1.6"/>
<line x1="104.70" y1="977.60" x2="104.70" y2="985.60" stroke="#000" stroke-width="1.4"/>
<line x1="104.70" y1="594.70" x2="104.70" y2="587.70" stroke="#000" stroke-width="1.4"/>
<text x="104.70" y="1003.8" font-size="16" text-anchor="middle" fill="#111">0</text>
<line x1="146.47" y1="977.60" x2="146.47" y2="981.60" stroke="#000" stroke-width="1.4"/>
<line x1="146.47" y1="594.70" x2="146.47" y2="591.10" stroke="#000" stroke-width="1.4"/>
<line x1="188.24" y1="977.60" x2="188.24" y2="985.60" stroke="#000" stroke-width="1.4"/>
<line x1="188.24" y1="594.70" x2="188.24" y2="587.70" stroke="#000" stroke-width="1.4"/>
<text x="188.24" y="1003.8" font-size="16" text-anchor="middle" fill="#111">10</text>
<line x1="230.01" y1="977.60" x2="230.01" y2="981.60" stroke="#000" stroke-width="1.4"/>
<line x1="230.01" y1="594.70" x2="230.01" y2="591.10" stroke="#000" stroke-width="1.4"/>
<line x1="271.78" y1="977.60" x2="271.78" y2="985.60" stroke="#000" stroke-width="1.4"/>
<line x1="271.78" y1="594.70" x2="271.78" y2="587.70" stroke="#000" stroke-width="1.4"/>
<text x="271.78" y="1003.8" font-size="16" text-anchor="middle" fill="#111">20</text>
<line x1="313.55" y1="977.60" x2="313.55" y2="981.60" stroke="#000" stroke-width="1.4"/>
<line x1="313.55" y1="594.70" x2="313.55" y2="591.10" stroke="#000" stroke-width="1.4"/>
<line x1="355.32" y1="977.60" x2="355.32" y2="985.60" stroke="#000" stroke-width="1.4"/>
<line x1="355.32" y1="594.70" x2="355.32" y2="587.70" stroke="#000" stroke-width="1.4"/>
<text x="355.32" y="1003.8" font-size="16" text-anchor="middle" fill="#111">30</text>
<line x1="397.09" y1="977.60" x2="397.09" y2="981.60" stroke="#000" stroke-width="1.4"/>
<line x1="397.09" y1="594.70" x2="397.09" y2="591.10" stroke="#000" stroke-width="1.4"/>
<line x1="438.86" y1="977.60" x2="438.86" y2="985.60" stroke="#000" stroke-width="1.4"/>
<line x1="438.86" y1="594.70" x2="438.86" y2="587.70" stroke="#000" stroke-width="1.4"/>
<text x="438.86" y="1003.8" font-size="16" text-anchor="middle" fill="#111">40</text>
<line x1="480.63" y1="977.60" x2="480.63" y2="981.60" stroke="#000" stroke-width="1.4"/>
<line x1="480.63" y1="594.70" x2="480.63" y2="591.10" stroke="#000" stroke-width="1.4"/>
<line x1="522.40" y1="977.60" x2="522.40" y2="985.60" stroke="#000" stroke-width="1.4"/>
<line x1="522.40" y1="594.70" x2="522.40" y2="587.70" stroke="#000" stroke-width="1.4"/>
<text x="522.40" y="1003.8" font-size="16" text-anchor="middle" fill="#111">50</text>
<line x1="55.80" y1="968.20" x2="62.80" y2="968.20" stroke="#000" stroke-width="1.4"/>
<line x1="531.80" y1="968.20" x2="538.80" y2="968.20" stroke="#000" stroke-width="1.4"/>
<text x="49.7" y="973.50" font-size="16" text-anchor="end" fill="#111">0.0</text>
<line x1="59.20" y1="934.22" x2="62.80" y2="934.22" stroke="#000" stroke-width="1.4"/>
<line x1="533.80" y1="934.22" x2="538.80" y2="934.22" stroke="#000" stroke-width="1.4"/>
<line x1="55.80" y1="900.24" x2="62.80" y2="900.24" stroke="#000" stroke-width="1.4"/>
<line x1="531.80" y1="900.24" x2="538.80" y2="900.24" stroke="#000" stroke-width="1.4"/>
<text x="49.7" y="905.54" font-size="16" text-anchor="end" fill="#111">0.2</text>
<line x1="59.20" y1="866.26" x2="62.80" y2="866.26" stroke="#000" stroke-width="1.4"/>
<line x1="533.80" y1="866.26" x2="538.80" y2="866.26" stroke="#000" stroke-width="1.4"/>
<line x1="55.80" y1="832.28" x2="62.80" y2="832.28" stroke="#000" stroke-width="1.4"/>
<line x1="531.80" y1="832.28" x2="538.80" y2="832.28" stroke="#000" stroke-width="1.4"/>
<text x="49.7" y="837.58" font-size="16" text-anchor="end" fill="#111">0.4</text>
<line x1="59.20" y1="798.30" x2="62.80" y2="798.30" stroke="#000" stroke-width="1.4"/>
<line x1="533.80" y1="798.30" x2="538.80" y2="798.30" stroke="#000" stroke-width="1.4"/>
<line x1="55.80" y1="764.32" x2="62.80" y2="764.32" stroke="#000" stroke-width="1.4"/>
<line x1="531.80" y1="764.32" x2="538.80" y2="764.32" stroke="#000" stroke-width="1.4"/>
<text x="49.7" y="769.62" font-size="16" text-anchor="end" fill="#111">0.6</text>
<line x1="59.20" y1="730.34" x2="62.80" y2="730.34" stroke="#000" stroke-width="1.4"/>
<line x1="533.80" y1="730.34" x2="538.80" y2="730.34" stroke="#000" stroke-width="1.4"/>
<line x1="55.80" y1="696.36" x2="62.80" y2="696.36" stroke="#000" stroke-width="1.4"/>
<line x1="531.80" y1="696.36" x2="538.80" y2="696.36" stroke="#000" stroke-width="1.4"/>
<text x="49.7" y="701.66" font-size="16" text-anchor="end" fill="#111">0.8</text>
<line x1="59.20" y1="662.38" x2="62.80" y2="662.38" stroke="#000" stroke-width="1.4"/>
<line x1="533.80" y1="662.38" x2="538.80" y2="662.38" stroke="#000" stroke-width="1.4"/>
<line x1="55.80" y1="628.40" x2="62.80" y2="628.40" stroke="#000" stroke-width="1.4"/>
<line x1="531.80" y1="628.40" x2="538.80" y2="628.40" stroke="#000" stroke-width="1.4"/>
<text x="49.7" y="633.70" font-size="16" text-anchor="end" fill="#111">1.0</text>
<text transform="translate(20.6,786) rotate(-90)" font-size="20" text-anchor="middle" fill="#111">Accuracy</text>
<text x="300.7" y="1034.6" font-size="20" text-anchor="middle" fill="#111">Epoch</text>
<g font-size="24" text-anchor="middle" fill="#000"><text x="265.5" y="1065.2" font-size="25">(</text><text x="275.2" y="1064.6" font-weight="bold">b</text><text x="284.6" y="1065.2" font-size="25">)</text></g>
<rect x="332.6" y="880.6" width="186.4" height="87.1" fill="#fff" stroke="#555" stroke-width="1.2"/>
<line x1="334" y1="892" x2="373.6" y2="892" stroke="#555555" stroke-width="2"/>
<rect x="350.00" y="888.00" width="8" height="8" fill="#555555"/>
<text x="377.4" y="897.6" font-size="16" letter-spacing="0.72" fill="#111">PRI-SWT_Linear_1</text>
<line x1="334" y1="913.3" x2="373.6" y2="913.3" stroke="#0000ff" stroke-width="2.4"/>
<path d="M354.00,907.10L359.50,917.10L348.50,917.10Z" fill="#0000ff"/>
<text x="377.4" y="918.9" font-size="16" letter-spacing="0.72" fill="#111">PRI-SWT_Linear_2</text>
<line x1="334" y1="934.6" x2="373.6" y2="934.6" stroke="#555555" stroke-width="2"/>
<path d="M354.00,940.80L359.50,930.80L348.50,930.80Z" fill="#808000"/>
<text x="377.4" y="940.2" font-size="16" letter-spacing="0.72" fill="#111">PRI-SWT_CNN_1</text>
<line x1="334" y1="955.9" x2="373.6" y2="955.9" stroke="#ff0000" stroke-width="2.4"/>
<circle cx="354.00" cy="955.90" r="4.6" fill="#ff0000"/>
<text x="377.4" y="961.5" font-size="16" letter-spacing="0.72" fill="#111">PRI-SWT_CNN_2</text>
</svg>
</body></html>
